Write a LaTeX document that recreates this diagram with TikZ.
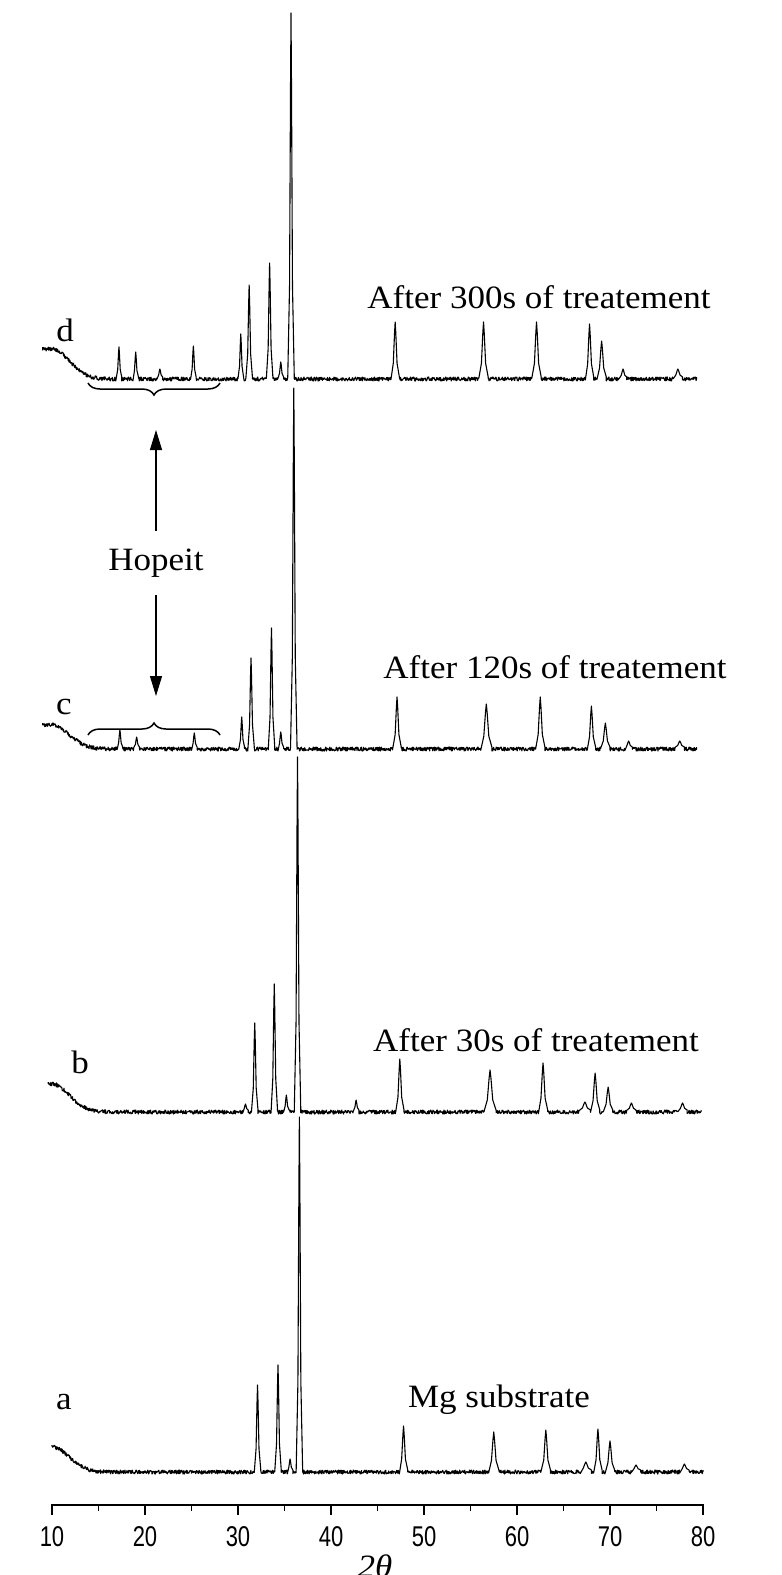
\documentclass[tikz,border=0pt]{standalone}
\usepackage{fontspec}
\setmainfont{Liberation Serif}
\newfontfamily\numfont{Liberation Sans}
\usetikzlibrary{decorations.pathreplacing,arrows.meta}
\tikzset{
  declare function={hump(\t,\h)=\h*exp(-(min(max(\t-10,0)/2.6,5))^2);},
  lbl/.style={font=\fontsize{35}{35}\selectfont, inner sep=0pt},
  nums/.style={font=\numfont\fontsize{22}{22}\selectfont, inner sep=0pt},
  trace/.style={line width=1.1pt, line join=round},
}
\newcommand{\vs}[1]{\scalebox{1}[1.3]{#1}}
\newcommand{\vsb}[1]{\scalebox{1}[0.93]{#1}}
% #1 start, #2 base, #3 hump, #4 peaks c/h/w (last one: end/0/0)
\newcommand{\xrdtrace}[4]{%
 \draw[trace] (#1,{#2-#3})
 \foreach[evaluate=\c as \s using \c-\w, evaluate=\c as \e using \c+\w,
          remember=\e as \pe (initially #1)] \c/\h/\w in {#4}{
   -- plot[domain=\pe:\s,samples={max(2,int((\s-\pe)*22))}] (\x,{#2+4*rnd-hump(\x,#3)})
   -- ({\c-0.45*\w},{#2-0.25*\h}) -- ({\c-0.15*\w},{#2-0.8*\h}) -- (\c,{#2-\h})
   -- ({\c+0.15*\w},{#2-0.8*\h}) -- ({\c+0.45*\w},{#2-0.25*\h}) -- (\e,#2)
 };}
\begin{document}
\begin{tikzpicture}[x=1pt,y=-1pt]
\useasboundingbox (0,0) rectangle (782,1575);
\begin{scope}[xshift=-41pt,x=9.3pt]
\xrdtrace{9}{377}{30}{17.2/30/0.3,19.0/25/0.3,21.6/8/0.3,25.2/31/0.3,30.3/43/0.3,31.2/92/0.35,33.4/114/0.35,34.6/15/0.3,35.7/364/0.35,46.9/55/0.45,56.4/55/0.5,62.1/55/0.5,67.8/53/0.45,69.1/36/0.5,71.4/8/0.4,77.3/8/0.5,79.3/0/0}
\xrdtrace{9}{747}{24}{17.3/17/0.3,19.1/10/0.3,25.3/14/0.3,30.4/30/0.3,31.4/89/0.35,33.6/119/0.35,34.6/15/0.3,36.0/359/0.35,47.1/50/0.45,56.7/43/0.6,62.5/50/0.5,68.0/41/0.45,69.5/24/0.5,72/6/0.4,77.5/6/0.5,79.3/0/0}
\xrdtrace{9.6}{1110}{28}{30.8/6/0.3,31.8/87/0.35,33.9/126/0.35,35.2/15/0.3,36.4/353/0.35,42.7/10/0.3,47.4/51/0.45,57.1/40/0.65,62.8/47/0.5,67.3/8/0.6,68.4/37/0.5,69.8/23/0.5,72.3/7/0.5,77.8/7/0.5,79.8/0/0}
\xrdtrace{10}{1470}{25}{32.1/85/0.35,34.3/105/0.35,35.6/11/0.3,36.6/353/0.35,47.8/44/0.45,57.5/38/0.55,63.1/40/0.5,67.4/8/0.6,68.7/41/0.45,70.0/29/0.5,72.8/5/0.5,78/6/0.5,80/0/0}
% axis
\draw[line width=2pt] (10,1505) -- (80,1505);
\foreach \v in {10,20,...,80} {
  \draw[line width=1.6pt] (\v,1504) -- (\v,1515);
  \node[nums,anchor=base] (t\v) at (\v,1546) {\vs{\v}};}
\foreach \v in {15,25,...,75} \draw[line width=1.6pt] (\v,1504) -- (\v,1511);
\end{scope}
\node[lbl] (lx) at (375,1566) {\vsb{\textit{2θ}}};
\node[lbl] (ld) at (65,330) {\vsb{d}};
\node[lbl] (lc) at (64,707) {\vsb{c}};
\node[lbl] (lb) at (80,1062) {\vsb{b}};
\node[lbl] (la) at (64,1402) {\vsb{a}};
\node[lbl] (td) at (539,297) {\vsb{After 300s of treatement}};
\node[lbl] (tc) at (555,667) {\vsb{After 120s of treatement}};
\node[lbl] (tb) at (536,1040) {\vsb{After 30s of treatement}};
\node[lbl] (ta) at (499,1400) {\vsb{Mg substrate}};
\node[lbl] (hop) at (156,563) {\vsb{Hopeit}};
\draw[line width=1.5pt,decorate,decoration={brace,amplitude=12pt}] (220,383) -- (88,383);
\draw[line width=1.5pt,decorate,decoration={brace,amplitude=12pt}] (88,735) -- (220,735);
\coordinate (upTip) at (156,430);
\coordinate (dnTip) at (156,696);
\draw[line width=1.3pt,-{Triangle[length=20pt,width=12pt]}] (hop.north) ++(0,-18) -- (upTip);
\draw[line width=1.3pt,-{Triangle[length=20pt,width=12pt]}] (hop.south) ++(0,18) -- (dnTip);
\end{tikzpicture}
\end{document}
